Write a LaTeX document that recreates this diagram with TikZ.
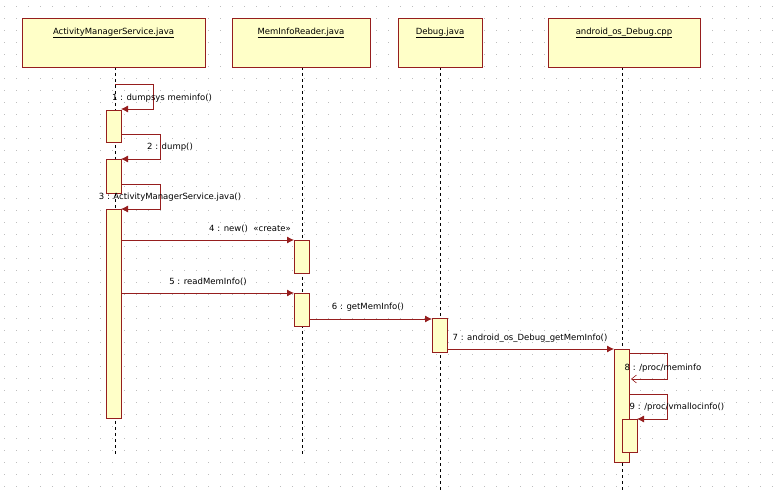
\documentclass[tikz,border=0pt]{standalone}
\usepackage{fontspec}
\setmainfont{DejaVu Sans}
\usetikzlibrary{arrows.meta}
\definecolor{bd}{RGB}{150,30,30}
\definecolor{yf}{RGB}{255,255,200}
\definecolor{gd}{RGB}{190,190,190}
\begin{document}
\begin{tikzpicture}[x=1pt,y=-1pt,
  head/.style={draw=bd,fill=yf,line width=0.8pt},
  act/.style={draw=bd,fill=yf,line width=0.8pt},
  life/.style={dashed,line width=0.7pt,dash pattern=on 3pt off 3pt},
  msg/.style={draw=bd,line width=0.8pt,-{Latex[length=7pt,width=7pt]}},
  ret/.style={draw=bd,line width=0.6pt,-{Straight Barb[length=5pt,width=8pt]}},
  lbl/.style={font=\fontsize{8.5}{10}\selectfont,inner sep=0pt},
  htxt/.style={font=\fontsize{8.5}{10}\selectfont,inner sep=0pt}]
\useasboundingbox (0,0) rectangle (777,494);
\fill[white] (0,0) rectangle (777,494);
\foreach \y in {6,18,...,494}
  \draw[gd,line width=0.8pt,dash pattern=on 0.8pt off 11.2pt] (4,\y) -- (777,\y);
% lifelines
\draw[life] (115,67) -- (115,455);
\draw[life] (302,67) -- (302,455);
\draw[life] (440,67) -- (440,490);
\draw[life] (622,67) -- (622,490);
% heads
\draw[head] (22,18) rectangle (205,67);
\node[htxt] (h1) at (113.5,33) {\underline{ActivityManagerService.java}};
\draw[head] (232,18) rectangle (370,67);
\node[htxt] (h2) at (301,33) {\underline{MemInfoReader.java}};
\draw[head] (398,18) rectangle (482,67);
\node[htxt] (h3) at (440,33) {\underline{Debug.java}};
\draw[head] (548,18) rectangle (700,67);
\node[htxt] (h4) at (624,33) {\underline{android\_os\_Debug.cpp}};
% activations
\draw[act] (106,110) rectangle (121,142);
\draw[act] (106,159) rectangle (121,193);
\draw[act] (106,209) rectangle (121,418);
\draw[act] (294,240) rectangle (309,273);
\draw[act] (294,293) rectangle (309,326);
\draw[act] (432,318) rectangle (447,352);
\draw[act] (614,349) rectangle (629,462);
\draw[act] (622,419) rectangle (637,452);
% coordinates
\coordinate (s1) at (115,84); \coordinate (e1) at (121,109);
\coordinate (s2) at (121,134); \coordinate (e2) at (121,159);
\coordinate (s3) at (121,184); \coordinate (e3) at (121,209);
\coordinate (s4) at (121,240); \coordinate (e4) at (294,240);
\coordinate (s5) at (121,293); \coordinate (e5) at (294,293);
\coordinate (s6) at (309,319); \coordinate (e6) at (432,319);
\coordinate (s7) at (447,349); \coordinate (e7) at (614,349);
\coordinate (s8) at (629,353); \coordinate (e8) at (631,379);
\coordinate (s9) at (629,394); \coordinate (e9) at (637,419);
\draw[msg] (s1) -- (153,84) -- (153,109) -- (e1);
\draw[msg] (s2) -- (160,134) -- (160,159) -- (e2);
\draw[msg] (s3) -- (160,184) -- (160,209) -- (e3);
\draw[msg] (s4) -- (e4);
\draw[msg] (s5) -- (e5);
\draw[msg] (s6) -- (e6);
\draw[msg] (s7) -- (e7);
\draw[bd,line width=0.8pt] (s8) -- (667,353) -- (667,379) -- (640,379);
\draw[ret] (640,379) -- (e8);
\draw[msg] (s9) -- (667,394) -- (667,419) -- (e9);
% labels
\node[lbl] (l1) at (162,98) {1 : dumpsys meminfo()};
\node[lbl] (l2) at (170,147) {2 : dump()};
\node[lbl] (l3) at (170,197) {3 : ActivityManagerService.java()};
\node[lbl] (l4) at (250,229) {4 : new()\ \ <<create>>};
\node[lbl] (l5) at (208,282) {5 : readMemInfo()};
\node[lbl] (l6) at (368,307) {6 : getMemInfo()};
\node[lbl] (l7) at (530,338) {7 : android\_os\_Debug\_getMemInfo()};
\node[lbl] (l8) at (663,368) {8 : /proc/meminfo};
\node[lbl] (l9) at (677,407) {9 : /proc/vmallocinfo()};
\end{tikzpicture}
\end{document}
